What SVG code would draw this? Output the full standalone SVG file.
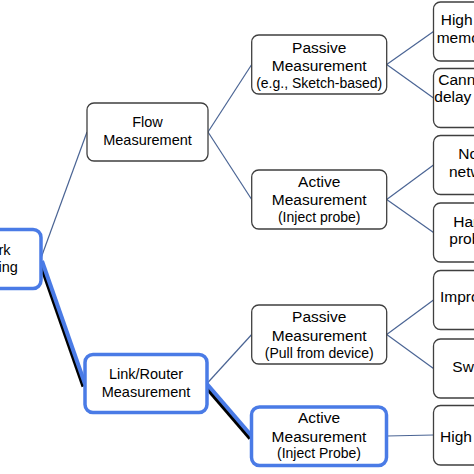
<svg xmlns="http://www.w3.org/2000/svg" width="474" height="474" viewBox="0 0 474 474">
<style>
.box{fill:#fff;stroke:#3f3f3f;stroke-width:1.3}
.hbox{fill:#fff;stroke:#4a7be6;stroke-width:3.5}
.t{font-family:"Liberation Sans",Arial,sans-serif;font-size:14.5px;fill:#000}
.b{font-size:15.5px}
.s{font-size:14px}
.l{font-size:15.5px}
.m{text-anchor:middle}
.c{stroke:#4a6494;stroke-width:1.2;fill:none}
.sh{stroke:#000;stroke-width:4;fill:none}
.hl{stroke:#4a7be6;stroke-width:4;fill:none}
</style>
<rect width="474" height="474" fill="#fff"/>
<g id="connectors">
<line class="c" x1="41" y1="258" x2="87" y2="132"/>
<line class="sh" x1="40.5" y1="263.5" x2="83.5" y2="386.5"/>
<line class="hl" x1="42" y1="261" x2="85" y2="384"/>
<line class="c" x1="208" y1="132" x2="251.7" y2="64.5"/>
<line class="c" x1="208" y1="132" x2="251.7" y2="199.5"/>
<line class="c" x1="207" y1="383.5" x2="251.7" y2="334.5"/>
<line class="sh" x1="205.5" y1="386.5" x2="250.2" y2="438.5"/>
<line class="hl" x1="207" y1="384" x2="251.7" y2="436"/>
<line class="c" x1="386.7" y1="64.5" x2="433.5" y2="31.5"/>
<line class="c" x1="386.7" y1="64.5" x2="433.5" y2="98"/>
<line class="c" x1="386.7" y1="199.5" x2="433.5" y2="165"/>
<line class="c" x1="386.7" y1="199.5" x2="433.5" y2="232.5"/>
<line class="c" x1="386.7" y1="334.5" x2="433.5" y2="300"/>
<line class="c" x1="386.7" y1="334.5" x2="433.5" y2="368.5"/>
<line class="c" x1="386.7" y1="436" x2="433.5" y2="435"/>
</g>
<g id="root">
<rect class="hbox" x="-75" y="229.5" width="116" height="59" rx="8"/>
<text class="t m" x="-16" y="255">Network</text>
<text class="t m" x="-16" y="271.5">Monitoring</text>
</g>
<g id="flow">
<rect class="box" x="87" y="103" width="121" height="58" rx="7"/>
<text class="t m" x="147.5" y="127.3">Flow</text>
<text class="t m" x="147.5" y="145">Measurement</text>
</g>
<g id="link">
<rect class="hbox" x="85" y="354.5" width="122" height="58" rx="8"/>
<text class="t m" x="146" y="379.3">Link/Router</text>
<text class="t m" x="146" y="396.7">Measurement</text>
</g>
<g id="flow-passive">
<rect class="box" x="251.7" y="35" width="135" height="59" rx="7"/>
<text class="t m b" x="319.2" y="52.5">Passive</text>
<text class="t m b" x="319.2" y="70.7">Measurement</text>
<text class="t m s" x="319.2" y="87.7">(e.g., Sketch-based)</text>
</g>
<g id="flow-active">
<rect class="box" x="251.7" y="170" width="135" height="59" rx="7"/>
<text class="t m b" x="319.2" y="187">Active</text>
<text class="t m b" x="319.2" y="205">Measurement</text>
<text class="t m s" x="319.2" y="221.5">(Inject probe)</text>
</g>
<g id="link-passive">
<rect class="box" x="251.7" y="305" width="135" height="59" rx="7"/>
<text class="t m b" x="319.2" y="322.3">Passive</text>
<text class="t m b" x="319.2" y="340.7">Measurement</text>
<text class="t m s" x="319.2" y="357.7">(Pull from device)</text>
</g>
<g id="link-active">
<rect class="hbox" x="251.5" y="407" width="135" height="58.5" rx="8"/>
<text class="t m b" x="319" y="423.3">Active</text>
<text class="t m b" x="319" y="441.7">Measurement</text>
<text class="t m s" x="319" y="458.3">(Inject Probe)</text>
</g>
<g id="leaf1">
<rect class="box" x="433.5" y="2" width="100" height="59" rx="7"/>
<text class="t l" x="440.7" y="25">High</text>
<text class="t l" x="436.7" y="43">memory</text>
</g>
<g id="leaf2">
<rect class="box" x="433.5" y="68.5" width="100" height="59" rx="7"/>
<text class="t l" x="438.3" y="85">Cannot</text>
<text class="t l" x="434.3" y="101.5">delay</text>
</g>
<g id="leaf3">
<rect class="box" x="433.5" y="135.5" width="100" height="59" rx="7"/>
<text class="t l" x="458.3" y="159.3">No</text>
<text class="t l" x="449" y="176.7">network</text>
</g>
<g id="leaf4">
<rect class="box" x="433.5" y="203" width="100" height="59" rx="7"/>
<text class="t l" x="453.3" y="227.3">Hard</text>
<text class="t l" x="449.3" y="244.3">probe</text>
</g>
<g id="leaf5">
<rect class="box" x="433.5" y="270.5" width="100" height="59" rx="7"/>
<text class="t l" x="440" y="302.3">Improve</text>
</g>
<g id="leaf6">
<rect class="box" x="433.5" y="339" width="100" height="59" rx="7"/>
<text class="t l" x="452.3" y="372.3">Switch</text>
</g>
<g id="leaf7">
<rect class="box" x="433.5" y="405.5" width="100" height="59.5" rx="7"/>
<text class="t l" x="440" y="441.7">High</text>
</g>
</svg>
